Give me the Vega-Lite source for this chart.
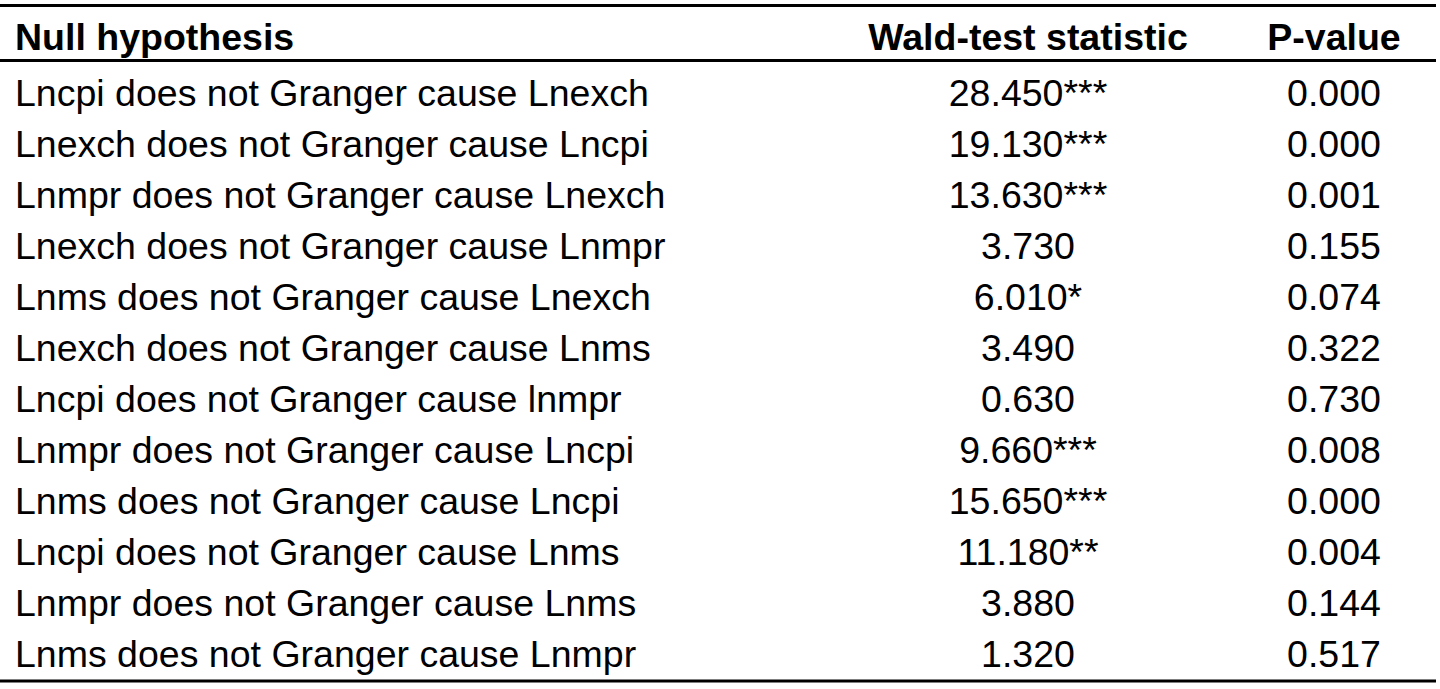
{
"$schema": "https://vega.github.io/schema/vega-lite/v6.json",
"width": 1436, "height": 689, "padding": 0, "autosize": {"type": "none"},
"background": "white",
"config": {"view": {"stroke": null}, "text": {"font": "Liberation Sans", "fontSize": 37.5, "color": "black", "baseline": "middle", "dy": 2}},
"datasets": {
"rows": [
{"r": 1, "hyp": "Lncpi does not Granger cause Lnexch", "wald": "28.450***", "p": "0.000"},
{"r": 2, "hyp": "Lnexch does not Granger cause Lncpi", "wald": "19.130***", "p": "0.000"},
{"r": 3, "hyp": "Lnmpr does not Granger cause Lnexch", "wald": "13.630***", "p": "0.001"},
{"r": 4, "hyp": "Lnexch does not Granger cause Lnmpr", "wald": "3.730", "p": "0.155"},
{"r": 5, "hyp": "Lnms does not Granger cause Lnexch", "wald": "6.010*", "p": "0.074"},
{"r": 6, "hyp": "Lnexch does not Granger cause Lnms", "wald": "3.490", "p": "0.322"},
{"r": 7, "hyp": "Lncpi does not Granger cause lnmpr", "wald": "0.630", "p": "0.730"},
{"r": 8, "hyp": "Lnmpr does not Granger cause Lncpi", "wald": "9.660***", "p": "0.008"},
{"r": 9, "hyp": "Lnms does not Granger cause Lncpi", "wald": "15.650***", "p": "0.000"},
{"r": 10, "hyp": "Lncpi does not Granger cause Lnms", "wald": "11.180**", "p": "0.004"},
{"r": 11, "hyp": "Lnmpr does not Granger cause Lnms", "wald": "3.880", "p": "0.144"},
{"r": 12, "hyp": "Lnms does not Granger cause Lnmpr", "wald": "1.320", "p": "0.517"}
],
"head": [
{"r": 0, "c": "hyp", "t": "Null hypothesis"},
{"r": 0, "c": "wald", "t": "Wald-test statistic"},
{"r": 0, "c": "p", "t": "P-value"}
]
},
"encoding": {
"y": {"field": "r", "type": "ordinal", "scale": {"type": "point", "domain": [0,1,2,3,4,5,6,7,8,9,10,11,12], "range": [42, 654], "padding": 0}, "axis": null}
},
"layer": [
{"data": {"name": "rows"}, "mark": {"type": "text", "align": "left"},
 "encoding": {"x": {"datum": "hyp", "type": "nominal", "scale": {"type": "point", "domain": ["hyp", "wald", "p"], "range": [15, 1334], "padding": 0}, "axis": null}, "text": {"field": "hyp"}}},
{"data": {"name": "rows"}, "mark": {"type": "text", "align": "center", "dx": 353.5},
 "encoding": {"x": {"datum": "wald", "type": "nominal"}, "text": {"field": "wald"}}},
{"data": {"name": "rows"}, "mark": {"type": "text", "align": "center"},
 "encoding": {"x": {"datum": "p", "type": "nominal"}, "text": {"field": "p"}}},
{"data": {"name": "head"}, "transform": [{"filter": "datum.c === 'hyp'"}], "mark": {"type": "text", "align": "left", "fontWeight": "bold", "yOffset": -5},
 "encoding": {"x": {"field": "c", "type": "nominal"}, "text": {"field": "t"}}},
{"data": {"name": "head"}, "transform": [{"filter": "datum.c === 'wald'"}], "mark": {"type": "text", "align": "center", "fontWeight": "bold", "yOffset": -5, "dx": 353.5},
 "encoding": {"x": {"field": "c", "type": "nominal"}, "text": {"field": "t"}}},
{"data": {"name": "head"}, "transform": [{"filter": "datum.c === 'p'"}], "mark": {"type": "text", "align": "center", "fontWeight": "bold", "yOffset": -5},
 "encoding": {"x": {"field": "c", "type": "nominal"}, "text": {"field": "t"}}},
{"data": {"values": [{"r": 0}]}, "mark": {"type": "rule", "strokeWidth": 3, "color": "black", "yOffset": -36.5}, "encoding": {"y": {"field": "r", "type": "ordinal"}}},
{"data": {"values": [{"r": 0}]}, "mark": {"type": "rule", "strokeWidth": 3, "color": "black", "yOffset": 18.5}, "encoding": {"y": {"field": "r", "type": "ordinal"}}},
{"data": {"values": [{"r": 12}]}, "mark": {"type": "rule", "strokeWidth": 3, "color": "black", "yOffset": 27}, "encoding": {"y": {"field": "r", "type": "ordinal"}}}
]
}
